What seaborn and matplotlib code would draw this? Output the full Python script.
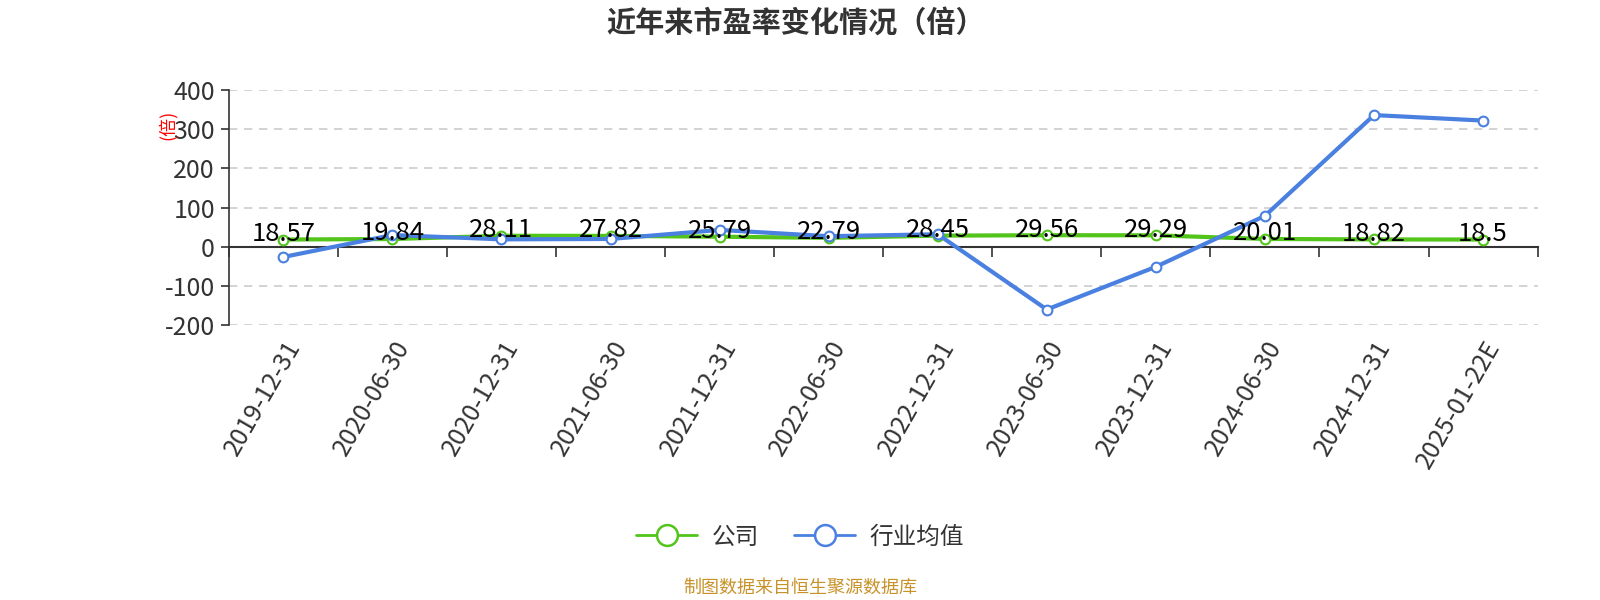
import matplotlib
matplotlib.use('Agg')
import matplotlib.pyplot as plt
import seaborn as sns
import pandas as pd

dates = ['2019-12-31', '2020-06-30', '2020-12-31', '2021-06-30', '2021-12-31', '2022-06-30',
         '2022-12-31', '2023-06-30', '2023-12-31', '2024-06-30', '2024-12-31', '2025-01-22E']
company = [18.57, 19.84, 28.11, 27.82, 25.79, 22.79, 28.45, 29.56, 29.29, 20.01, 18.82, 18.5]
industry = [-26, 30, 19, 20, 43, 27, 32, -160, -51, 79, 336, 322]
series_names = ['公司', '行业均值']
colors = ['#52c41a', '#4a80e0']

sns.set_theme(style='white')
plt.rcParams['font.family'] = ['Noto Sans CJK SC', 'DejaVu Sans']
plt.rcParams['axes.unicode_minus'] = False


def build_frame():
    pos = list(range(len(dates)))
    df = pd.concat([
        pd.DataFrame({'pos': pos, 'value': company, 'series': series_names[0]}),
        pd.DataFrame({'pos': pos, 'value': industry, 'series': series_names[1]}),
    ])
    return df


def draw():
    df = build_frame()
    fig = plt.figure(figsize=(16, 6), dpi=100)
    ax = fig.add_axes([0.143, 0.458, 0.818, 0.392])

    sns.lineplot(data=df, x='pos', y='value', hue='series', palette=colors, sort=False,
                 linewidth=3, marker='o', markersize=7, markerfacecolor='white',
                 markeredgewidth=1.5, ax=ax, legend=False)
    # marker edges in the series colour
    for line, c in zip(ax.lines, colors):
        line.set_markeredgecolor(c)

    ax.set_xlim(-0.5, len(dates) - 0.5)
    ax.set_ylim(-200, 400)
    ax.set_yticks(range(-200, 401, 100))
    ax.tick_params(axis='y', labelsize=18, labelcolor='#333333', length=6, width=1.2,
                   color='#333333', direction='out', left=True, pad=4)
    for v in range(-200, 401, 100):
        if v != 0:
            ax.axhline(v, color='#cccccc', lw=1.2, ls=(0, (5, 4)), zorder=0)

    # category labels at the bottom of the plot area
    ax.set_xticks(range(len(dates)))
    ax.set_xticklabels(dates, rotation=60, ha='right', rotation_mode='anchor',
                       fontsize=18, color='#333333')
    ax.tick_params(axis='x', length=0, pad=8)

    for s in ['top', 'right', 'bottom']:
        ax.spines[s].set_visible(False)
    ax.spines['left'].set_color('#333333')
    ax.spines['left'].set_linewidth(1.2)

    # zero line axis with boundary ticks
    zero_ax = ax.secondary_xaxis(200 / 600)
    zero_ax.set_xticks([i - 0.5 for i in range(len(dates) + 1)])
    zero_ax.set_xticklabels([])
    zero_ax.tick_params(axis='x', direction='out', length=7, width=1.2, color='#333333')
    zero_ax.spines['bottom'].set_color('#333333')
    zero_ax.spines['bottom'].set_linewidth(1.5)
    zero_ax.spines['top'].set_visible(False)
    zero_ax.xaxis.set_ticks_position('bottom')

    for i, v in enumerate(company):
        ax.annotate(f'{v:g}', (i, v), xytext=(0, 4), textcoords='offset points',
                    ha='center', va='center', fontsize=18.5, color='black', zorder=5)

    ax.set_xlabel('')
    ax.set_ylabel('(倍)', color='red', fontsize=13, rotation=90)
    ax.yaxis.set_label_coords(-0.04, 0.85)

    handles = [plt.Line2D([], [], color=c, lw=2, marker='o', markersize=15,
                          markerfacecolor='white', markeredgewidth=1.8, markeredgecolor=c)
               for c in colors]
    fig.legend(handles, series_names, loc='center', bbox_to_anchor=(0.5, 0.105), ncol=2,
               frameon=False, fontsize=17, handlelength=2.6, columnspacing=1.5,
               handletextpad=0.6, labelcolor='#333333')

    fig.text(0.497, 0.963, '近年来市盈率变化情况（倍）', ha='center', va='center',
             fontsize=21, fontweight='bold', color='#333333')
    fig.text(0.5, 0.02, '制图数据来自恒生聚源数据库', ha='center', va='center',
             fontsize=13, color='#c8922a')

    fig.savefig('out.png', dpi=100)


def main():
    draw()


if __name__ == '__main__':
    main()
